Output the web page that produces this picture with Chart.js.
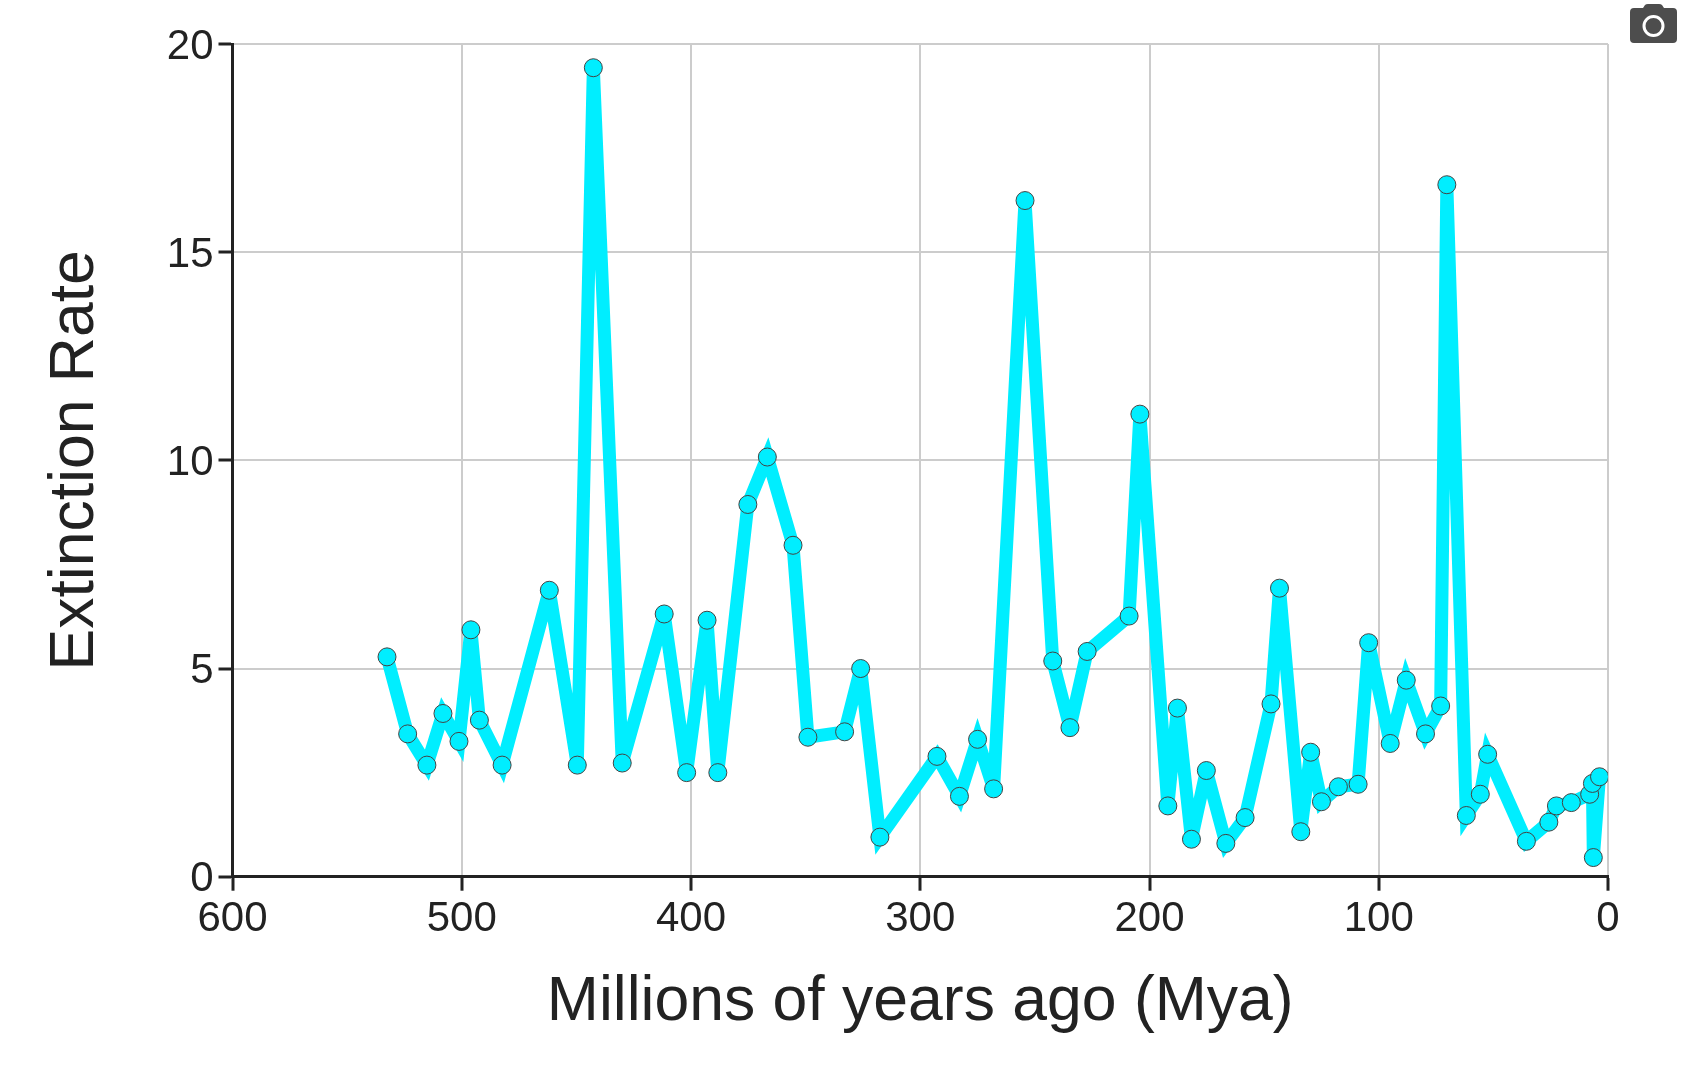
<!DOCTYPE html>
<html>
<head>
<meta charset="utf-8">
<title>Extinction Rate</title>
<script src="https://cdn.jsdelivr.net/npm/chart.js@4/dist/chart.umd.min.js"></script>
<style>
  html, body { margin: 0; padding: 0; background: #fff; }
  #wrap { position: relative; width: 1684px; height: 1066px; }
  #camera { position: absolute; left: 1630px; top: 2px; }
</style>
</head>
<body>
<div id="wrap">
  <canvas id="chart" width="1684" height="1066"></canvas>
  <svg id="camera" width="47" height="42" viewBox="0 0 47 42">
    <path d="M4 6h9l2-3q1-1 3-1h11q2 0 3 1l2 3h9q4 0 4 4v27q0 4-4 4H4q-4 0-4-4V10q0-4 4-4z" fill="#4d4d4d"/>
    <circle cx="23.5" cy="24" r="9.5" fill="none" stroke="#fff" stroke-width="3"/>
  </svg>
</div>
<script>
const mya = [532.6, 523.6, 515.2, 508.2, 501.2, 496, 492.3, 482.4, 461.8, 449.6, 442.6, 430, 411.7,
  401.9, 393, 388.3, 375.2, 366.7, 355.5, 349, 333, 326, 317.6, 292.7, 282.9, 275, 268, 254.3,
  242.2, 234.7, 227.2, 208.9, 204.2, 192, 187.8, 181.7, 175.2, 166.7, 158.3, 147, 143.3, 134,
  129.7, 125, 117.6, 109, 104.4, 95, 88, 79.6, 73, 70.3, 61.8, 55.7, 52.5, 35.6, 25.8, 22.5,
  16, 8, 6.8, 6.4, 3.7];
const extinctionRate = [5.28, 3.43, 2.68, 3.92, 3.25, 5.93, 3.76, 2.68, 6.88, 2.68, 19.43, 2.73, 6.31,
  2.5, 6.16, 2.5, 8.94, 10.08, 7.96, 3.35, 3.48, 5.0, 0.95, 2.89, 1.93, 3.3, 2.11, 16.24,
  5.18, 3.58, 5.41, 6.26, 11.11, 1.7, 4.05, 0.9, 2.55, 0.8, 1.42, 4.15, 6.93, 1.08,
  2.99, 1.8, 2.16, 2.22, 5.62, 3.2, 4.72, 3.43, 4.1, 16.62, 1.47, 1.98, 2.94, 0.85, 1.31, 1.7,
  1.78, 1.98, 2.24, 0.46, 2.4];

const FONT = '"Liberation Sans", Arial, sans-serif';
const TEXT = "#222222";
const GRID = "#cccccc";

// spikes at the joins get cut off instead of running long, like svg strokes
const miterPlugin = {
  id: "miter",
  beforeDatasetsDraw(chart) {
    chart.ctx.miterLimit = 4;
  }
};

new Chart(document.getElementById("chart"), {
  type: "line",
  data: {
    datasets: [{
      data: mya.map((x, i) => ({ x, y: extinctionRate[i] })),
      borderColor: "#00eeff",
      borderWidth: 13,
      borderJoinStyle: "miter",
      borderCapStyle: "butt",
      tension: 0,
      pointRadius: 9,
      pointBackgroundColor: "#00eeff",
      pointBorderColor: "#444444",
      pointBorderWidth: 1
    }]
  },
  plugins: [miterPlugin],
  options: {
    responsive: false,
    animation: false,
    layout: { padding: { top: 44, right: 76, bottom: 26, left: 38 } },
    plugins: { legend: { display: false }, tooltip: { enabled: false } },
    scales: {
      x: {
        type: "linear",
        reverse: true,
        min: 0,
        max: 600,
        afterFit: s => { s.height = 163.3; },
        ticks: {
          stepSize: 100,
          color: TEXT,
          padding: 4,
          maxRotation: 0,
          font: { family: FONT, size: 42 }
        },
        grid: { color: GRID, lineWidth: 2, tickLength: 14, tickColor: TEXT, tickWidth: 3 },
        border: { color: TEXT, width: 3 },
        title: {
          display: true,
          text: "Millions of years ago (Mya)",
          color: TEXT,
          padding: 0,
          font: { family: FONT, size: 62.5 }
        }
      },
      y: {
        min: 0,
        max: 20,
        afterFit: s => { s.width = 194.5; },
        ticks: {
          stepSize: 5,
          color: TEXT,
          padding: 5,
          // blank first line nudges the digits down onto the tick
          callback: v => ["", String(v)],
          font: { family: FONT, size: 42, lineHeight: "6px" }
        },
        grid: { color: GRID, lineWidth: 2, tickLength: 14, tickColor: TEXT, tickWidth: 3 },
        border: { color: TEXT, width: 3 },
        title: {
          display: true,
          text: "Extinction Rate",
          color: TEXT,
          padding: 0,
          font: { family: FONT, size: 62.5 }
        }
      }
    }
  }
});
</script>
</body>
</html>
